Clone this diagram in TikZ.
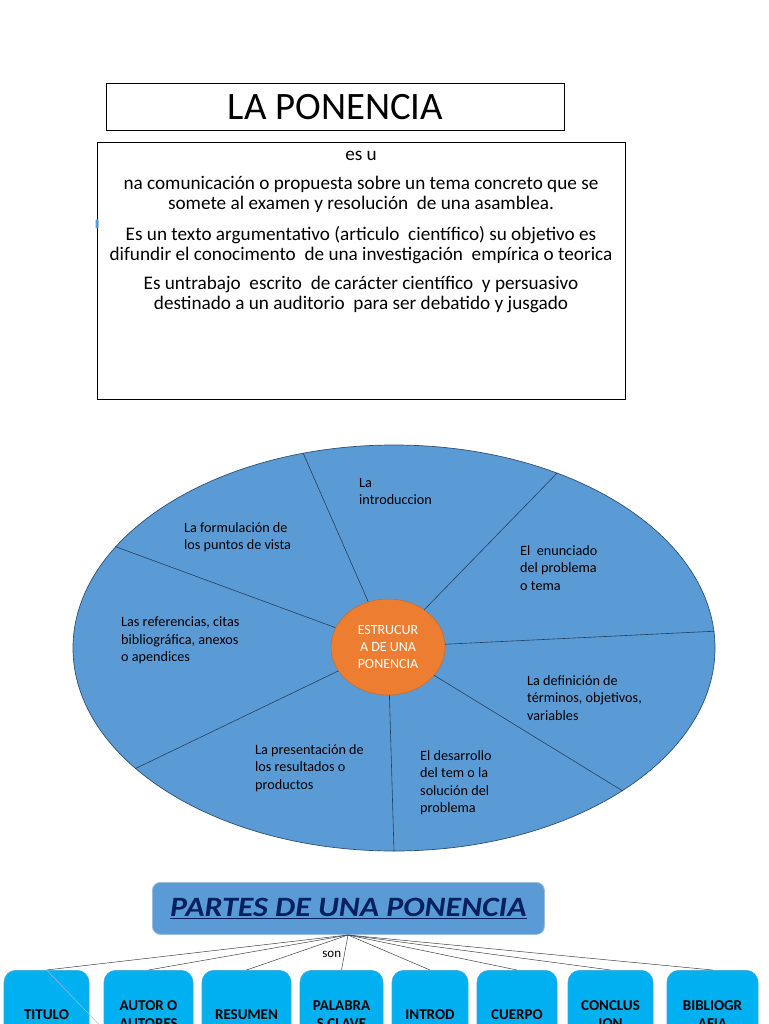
\documentclass[tikz,border=0pt]{standalone}
\usepackage{fontspec}
\setmainfont{Carlito}
\usetikzlibrary{shapes.geometric}
\definecolor{ellblue}{HTML}{5B9BD5}
\definecolor{elledge}{HTML}{2F4F70}
\definecolor{orng}{HTML}{ED7D31}
\definecolor{cyanbox}{HTML}{00B0F0}
\definecolor{cyanedge}{HTML}{3AA6D8}
\definecolor{navy}{HTML}{002060}
\definecolor{faint}{HTML}{9DBBDB}
\tikzset{
  plainbox/.style={draw=black, line width=0.8pt, fill=white, inner sep=0pt},
  bodytext/.style={font=\fontsize{19.2}{20}\selectfont, align=center, inner sep=0pt},
  seglabel/.style={font=\fontsize{14.2}{17.5}\selectfont, align=left, inner sep=0pt, anchor=north west},
  divider/.style={draw=elledge!80!black, line width=0.6pt},
  partbox/.style={draw=cyanedge, fill=cyanbox, rounded corners=12pt, line width=0.6pt,
    minimum height=88pt, anchor=north, align=center, inner sep=0pt,
    font=\fontsize{15}{18}\selectfont\bfseries},
  hubline/.style={draw=black!75, line width=0.5pt}
}
\begin{document}
\begin{tikzpicture}[x={(1pt,0pt)}, y={(0pt,-1pt)}]
\useasboundingbox (0,0) rectangle (768,1024);
\clip (0,0) rectangle (768,1024);

% Title
\node[plainbox, minimum width=458pt, minimum height=47pt, anchor=north west,
  font=\fontsize{38.8}{40}\selectfont] (title) at (106,83) {LA PONENCIA};

% Definition box
\node[plainbox, minimum width=528pt, minimum height=257pt, anchor=north west] (defbox) at (97,142) {};
\node[fill=ellblue, rounded corners=1pt, minimum width=3pt, minimum height=9pt, inner sep=0pt] (tick) at (97,224) {};
\node[bodytext] (d1) at (361,156) {es u};
\node[bodytext, anchor=north] (d2) at (361,176) {na comunicación o propuesta sobre un tema concreto que se\\somete al examen y resolución~ de una asamblea.};
\node[bodytext, anchor=north] (d3) at (361,226) {Es un texto argumentativo (articulo~ científico) su objetivo es\\difundir el conocimento~ de una investigación~ empírica o teorica};
\node[bodytext, anchor=north] (d4) at (361,276) {Es untrabajo~ escrito~ de carácter científico~ y persuasivo\\destinado a un auditorio~ para ser debatido y jusgado};

% Ellipse
\node[ellipse, draw=elledge, line width=0.7pt, fill=ellblue, minimum width=642pt, minimum height=406pt, inner sep=0pt] (E) at (394,648) {};
\node[ellipse, fill=orng, draw=orng!85!black, line width=0.5pt, minimum width=114pt, minimum height=96pt, inner sep=0pt,
  text=white, align=center, font=\fontsize{14}{17}\selectfont] (C) at (388,647) {ESTRUCUR\\A DE UNA\\PONENCIA};
\draw[divider] (C) -- (E.115.5);
\draw[divider] (C) -- (E.47.4);
\draw[divider] (C) -- (E.3.8);
\draw[divider] (C) -- (E.-32.3);
\draw[divider] (C) -- (E.-90.3);
\draw[divider] (C) -- (E.205.8);
\draw[divider] (C) -- (E.160.2);

\node[seglabel] (s1) at (359,478) {La\\introduccion};
\node[seglabel] (s2) at (184,522) {La formulación de\\los puntos de vista};
\node[seglabel] (s3) at (520,545) {El~ enunciado\\del problema\\o tema};
\node[seglabel] (s4) at (121,617) {Las referencias, citas\\bibliográfica, anexos\\o apendices};
\node[seglabel] (s5) at (527,675) {La definición de\\términos, objetivos,\\variables};
\node[seglabel] (s6) at (255,744) {La presentación de\\los resultados o\\productos};
\node[seglabel] (s7) at (420,750) {El desarrollo\\del tem o la\\solución del\\problema};

% Partes
\node[draw=faint, fill=ellblue, rounded corners=8pt, line width=0.8pt, minimum width=392pt, minimum height=52pt,
  anchor=north west, inner sep=0pt, text=navy, font=\fontsize{28}{30}\selectfont\bfseries\itshape] (P) at (152,882)
  {\scalebox{1.14}[1]{\underline{PARTES DE UNA PONENCIA}}};

\node[partbox, minimum width=85pt] (b1) at (46.5,970) {TITULO};
\node[partbox, minimum width=89pt] (b2) at (148.5,970) {AUTOR O\\AUTORES};
\node[partbox, minimum width=89pt] (b3) at (246.5,970) {RESUMEN};
\node[partbox, minimum width=83pt] (b4) at (341.5,970) {PALABRA\\S CLAVE};
\node[partbox, minimum width=76pt] (b5) at (430,970) {INTROD};
\node[partbox, minimum width=80pt] (b6) at (517,970) {CUERPO};
\node[partbox, minimum width=85pt] (b7) at (610.5,970) {CONCLUS\\ION};
\node[partbox, minimum width=91pt] (b8) at (712.5,970) {BIBLIOGR\\AFIA};

\coordinate (hub) at (348,935);
\draw[hubline] (hub) -- (b1.north);
\draw[hubline] (hub) -- (b2.north);
\draw[hubline] (hub) -- (b3.north);
\draw[hubline] (hub) -- node[pos=0.55, left=3pt, inner sep=0pt, font=\fontsize{13}{14}\selectfont] (son) {son} (b4.north);
\draw[hubline] (hub) -- (b5.north);
\draw[hubline] (hub) -- (b6.north);
\draw[hubline] (hub) -- (b7.north);
\draw[hubline] (hub) -- (b8.north);
\coordinate (tdown) at (112,1038);
\draw[draw=faint, line width=0.5pt] (b1.north) -- (tdown);
\end{tikzpicture}
\end{document}
